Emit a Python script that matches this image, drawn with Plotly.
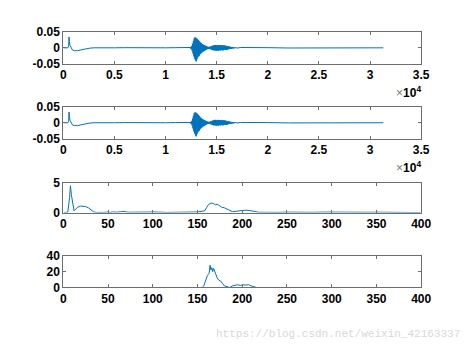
import numpy as np
import plotly.graph_objects as go

# ---------------- data ----------------
# time-domain signal (sample index, amplitude)
pre_x = [0, 450, 520, 560, 600, 650, 750, 900, 1100, 1400, 1800, 2200, 2600, 3000, 4000, 5000,
         6000, 7000, 8000, 9000, 10000, 11000, 12000, 12360]
pre_y = [0, 0, 0.005, 0.034, 0.02, 0.008, 0.0, -0.007, -0.009, -0.009, -0.006, -0.003, -0.001, 0.0,
         0.001, 0.0, 0.0005, 0.0, 0.0005, -0.0005, 0.0, 0.0005, 0.0, 0.001]
burst_start = 12400
burst_step = 40
burst_y = [0.001, -0.002, 0.003, -0.004, 0.006, -0.009, 0.013, -0.018, 0.022, -0.027,
           0.030, -0.034, 0.033, -0.040, 0.032, -0.043, 0.030, -0.036, 0.028, -0.030,
           0.025, -0.027, 0.022, -0.024, 0.019, -0.020, 0.016, -0.017, 0.014, -0.015,
           0.012, -0.012, 0.010, -0.011, 0.009, -0.009, 0.008, -0.008, 0.006, -0.006,
           0.005, -0.005, 0.004, -0.004, 0.003, -0.003, 0.003, -0.003, 0.003, -0.003,
           0.004, -0.005, 0.005, -0.006, 0.006, -0.007, 0.007, -0.008, 0.008, -0.008,
           0.009, -0.008, 0.009, -0.009, 0.008, -0.009, 0.009, -0.008, 0.008, -0.009,
           0.009, -0.008, 0.008, -0.008, 0.008, -0.008, 0.009, -0.007, 0.008, -0.008,
           0.007, -0.008, 0.008, -0.007, 0.007, -0.007, 0.007, -0.006, 0.006, -0.007,
           0.006, -0.006, 0.005, -0.005, 0.005, -0.004, 0.004, -0.004, 0.003, -0.003,
           0.003, -0.003, 0.002, -0.002, 0.002, -0.002, 0.002, -0.002, 0.001, -0.001,
           0.001, -0.001, 0.001, -0.001, 0.001, -0.001]
post_x = [17300, 18500, 20000, 22000, 25000, 28000, 31300]
post_y = [0.001, 0.0, 0.0005, -0.0005, 0.0, 0.0005, 0.0]

# spectrum (panel 3)
spec_x = [1, 5, 7, 8, 9, 11, 12, 14, 16, 19, 22, 25, 28, 31, 34, 37, 40, 45, 50, 52, 55, 58, 60,
          65, 68, 72, 80, 85, 90, 95, 100, 105, 110, 115, 120, 125, 130, 135, 140, 145, 150, 155,
          158, 160, 162, 165, 168, 170, 172, 175, 177, 180, 183, 186, 189, 192, 196, 200, 205,
          210, 214, 218, 225, 232, 240, 250, 260, 270, 280, 290, 300, 310, 320, 330, 340, 350,
          360, 370, 380, 399]
spec_y = [0, 0.05, 2.5, 4.5, 3.0, 0.6, 0.3, 0.6, 0.9, 1.1, 1.1, 1.0, 0.8, 0.4, 0.1, 0.02, 0.0,
          0.03, 0.08, 0.02, 0.1, 0.03, 0.06, 0.15, 0.2, 0.05, 0.02, 0.06, 0.03, 0.08, 0.1, 0.03,
          0.06, 0.02, 0.05, 0.08, 0.03, 0.06, 0.05, 0.09, 0.1, 0.15, 0.3, 0.8, 1.3, 1.6, 1.5,
          1.3, 1.4, 1.1, 0.9, 0.8, 0.6, 0.3, 0.15, 0.2, 0.3, 0.35, 0.4, 0.35, 0.2, 0.05, 0.02,
          0.06, 0.03, 0.07, 0.03, 0.06, 0.04, 0.08, 0.05, 0.09, 0.04, 0.07, 0.05, 0.06, 0.04,
          0.03, 0.01, 0.0]

# panel 4
p4_x = [1, 150, 155, 157, 159, 161, 163, 164, 165, 166, 167, 168, 170, 172, 174, 176, 178, 180,
        183, 186, 189, 192, 195, 198, 201, 204, 207, 210, 213, 216, 400]
p4_y = [0, 0, 0, 2, 10, 15, 18, 28, 22, 25, 20, 24, 18, 12, 9, 8, 5, 2, 1, 0, 2, 3, 3.5, 2.5,
        3.5, 3, 3.5, 2, 0.5, 0, 0]

wave_ticks = [0, 5000, 10000, 15000, 20000, 25000, 30000, 35000]
wave_ticktext = ["0", "0.5", "1", "1.5", "2", "2.5", "3", "3.5"]
wave_yticks = [-0.05, 0, 0.05]
wave_yticktext = ["-0.05", "0", "0.05"]
freq_ticks = [0, 50, 100, 150, 200, 250, 300, 350, 400]

# ---------------- figure ----------------
W, H = 474, 355
burst_x = burst_start + burst_step * np.arange(len(burst_y))
wave_x = list(pre_x) + list(burst_x) + list(post_x)
wave_y = list(pre_y) + list(burst_y) + list(post_y)

BLUE = "#0072BD"
LINE_W = 1.0

fig = go.Figure()
for i in (1, 2):
    fig.add_trace(go.Scatter(x=wave_x, y=wave_y, mode="lines", line=dict(color=BLUE, width=LINE_W),
                             xaxis=f"x{i}" if i > 1 else "x", yaxis=f"y{i}" if i > 1 else "y",
                             showlegend=False, hoverinfo="skip"))
fig.add_trace(go.Scatter(x=spec_x, y=spec_y, mode="lines", line=dict(color=BLUE, width=LINE_W),
                         xaxis="x3", yaxis="y3", showlegend=False))
fig.add_trace(go.Scatter(x=p4_x, y=p4_y, mode="lines", line=dict(color=BLUE, width=LINE_W),
                         xaxis="x4", yaxis="y4", showlegend=False))

def px_dom(top, bottom):
    return [(H - bottom) / H, (H - top) / H]

xdom = [62 / W, 430 / W]
ydoms = [px_dom(26, 59), px_dom(104, 137), px_dom(183, 214), px_dom(259, 292)]

font_tick = dict(family="Liberation Sans, Arial", size=12, color="black", weight="bold")
axcommon = dict(showline=True, linecolor="#6e6e6e", linewidth=1, mirror="ticks",
                ticks="inside", ticklen=3, tickcolor="#6e6e6e", showgrid=False,
                zeroline=False, tickfont=font_tick)

layout = dict(width=W, height=H, margin=dict(l=0, r=0, t=0, b=0),
              paper_bgcolor="white", plot_bgcolor="white", showlegend=False)
for i in range(4):
    sfx = "" if i == 0 else str(i + 1)
    if i < 2:
        xa = dict(domain=xdom, range=[0, 35000], tickvals=wave_ticks, ticktext=wave_ticktext,
                  anchor="y" + sfx, **axcommon)
        ya = dict(domain=ydoms[i], range=[-0.05, 0.05], tickvals=wave_yticks,
                  ticktext=wave_yticktext, anchor="x" + sfx, **axcommon)
    else:
        xa = dict(domain=xdom, range=[0, 400], tickvals=freq_ticks, anchor="y" + sfx, **axcommon)
        if i == 2:
            ya = dict(domain=ydoms[i], range=[0, 5], tickvals=[0, 5], anchor="x" + sfx, **axcommon)
        else:
            ya = dict(domain=ydoms[i], range=[0, 40], tickvals=[0, 20, 40], anchor="x" + sfx,
                      **axcommon)
    layout["xaxis" + sfx] = xa
    layout["yaxis" + sfx] = ya

fig.update_layout(**layout)

for ycen in (89, 167):
    fig.add_annotation(x=432 / W, y=(H - ycen) / H, xref="paper", yref="paper",
                       text="<span style='color:#777;font-weight:normal'>×</span>10<sup>4</sup>",
                       showarrow=False, xanchor="right", yanchor="middle",
                       font=dict(family="Liberation Sans, Arial", size=12, color="black",
                                 weight="bold"))

fig.add_annotation(x=472 / W, y=(H - 340) / H, xref="paper", yref="paper",
                   text="https://blog.csdn.net/weixin_42163337", showarrow=False,
                   xanchor="right", yanchor="middle",
                   font=dict(family="Liberation Mono, DejaVu Sans Mono", size=11, color="#d8d8d8"))

fig.write_html("out.html")
